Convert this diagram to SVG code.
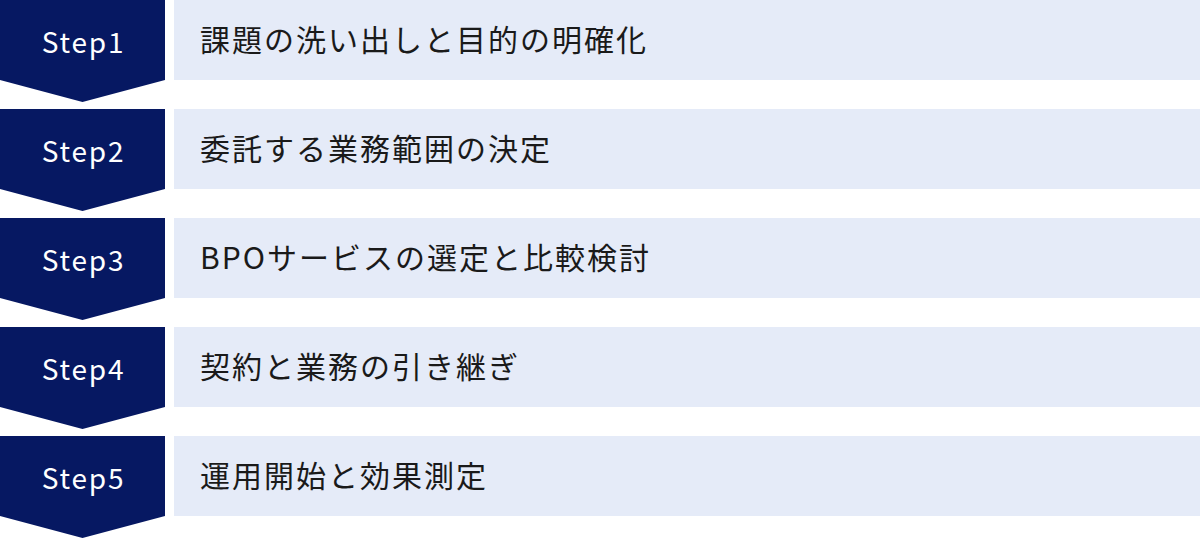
<svg xmlns="http://www.w3.org/2000/svg" width="1200" height="538" viewBox="0 0 1200 538">
<style>
.step{fill:#061862}
.box{fill:#E5EBF8}
.lbl{font-family:"Noto Sans CJK JP","Noto Sans",sans-serif;font-size:28px;fill:#ffffff;text-anchor:middle;letter-spacing:1.8px}
.txt{font-family:"Noto Sans CJK JP",sans-serif;font-size:30px;fill:#1a1a1a;letter-spacing:2px}
</style>
<rect width="1200" height="538" fill="#ffffff"/>
<g id="step1">
<polygon class="step" points="0,0 165,0 165,80 82.5,102 0,80"/>
<rect class="box" x="174" y="0" width="1026" height="80"/>
<text class="lbl" x="83.5" y="53">Step1</text>
<text class="txt" x="200" y="50.5">課題の洗い出しと目的の明確化</text>
</g>
<g id="step2">
<polygon class="step" points="0,109 165,109 165,189 82.5,211 0,189"/>
<rect class="box" x="174" y="109" width="1026" height="80"/>
<text class="lbl" x="83.5" y="162">Step2</text>
<text class="txt" x="200" y="159.5">委託する業務範囲の決定</text>
</g>
<g id="step3">
<polygon class="step" points="0,218 165,218 165,298 82.5,320 0,298"/>
<rect class="box" x="174" y="218" width="1026" height="80"/>
<text class="lbl" x="83.5" y="271">Step3</text>
<text class="txt" x="200" y="268.5">BPOサービスの選定と比較検討</text>
</g>
<g id="step4">
<polygon class="step" points="0,327 165,327 165,407 82.5,429 0,407"/>
<rect class="box" x="174" y="327" width="1026" height="80"/>
<text class="lbl" x="83.5" y="380">Step4</text>
<text class="txt" x="200" y="377.5">契約と業務の引き継ぎ</text>
</g>
<g id="step5">
<polygon class="step" points="0,436 165,436 165,516 82.5,538 0,516"/>
<rect class="box" x="174" y="436" width="1026" height="80"/>
<text class="lbl" x="83.5" y="489">Step5</text>
<text class="txt" x="200" y="486.5">運用開始と効果測定</text>
</g>
<g id="connectors"/>
</svg>
